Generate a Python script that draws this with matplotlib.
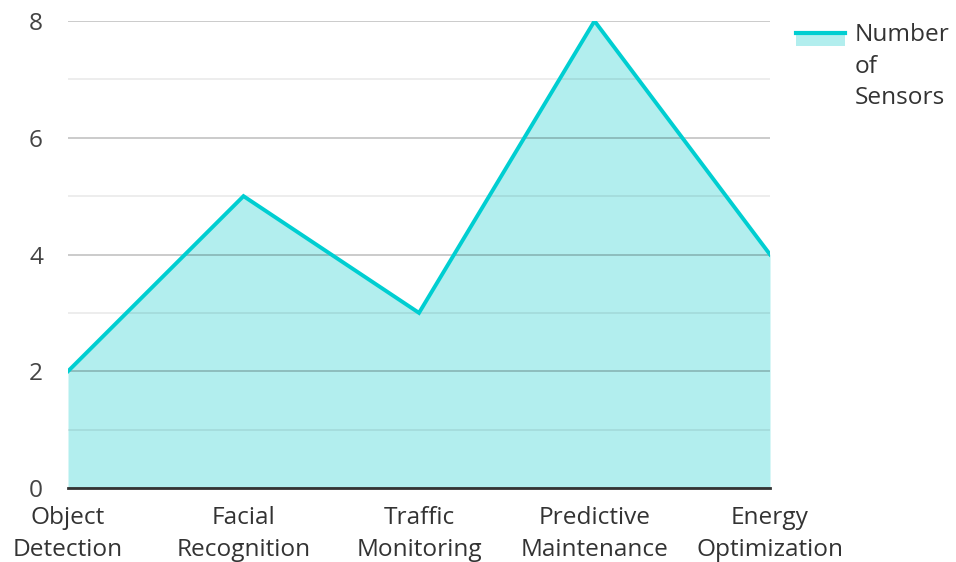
import matplotlib
matplotlib.use("Agg")
import matplotlib.pyplot as plt
from matplotlib.patches import Rectangle
from matplotlib.lines import Line2D

categories = ["Object\nDetection", "Facial\nRecognition", "Traffic\nMonitoring",
              "Predictive\nMaintenance", "Energy\nOptimization"]
sensors = [2, 5, 3, 8, 4]
series_label = "Number\nof\nSensors"
yticks = [0, 2, 4, 6, 8]

LINE = "#00CED1"
FILL = "#B2EEEE"
FS = 17.6
LS = 1.42

plt.rcParams['font.family'] = ['Open Sans', 'DejaVu Sans']

fig = plt.figure(figsize=(9.56, 5.62), dpi=100)
ax = fig.add_axes([68/956, 74/562, (770-68)/956, (488-21)/562])

x = list(range(len(categories)))
ax.fill_between(x, 0, sensors, color=FILL, lw=0, zorder=1)
ax.plot(x, sensors, color=LINE, lw=2.8, zorder=4, solid_joinstyle='miter')

ax.set_xlim(0, len(categories) - 1)
ax.set_ylim(0, 8)
ax.set_yticks(yticks)
ax.set_yticks([1, 3, 5, 7], minor=True)
ax.set_xticks(x)
ax.set_xticklabels(categories, fontsize=FS, color="#333333", linespacing=LS)
ax.tick_params(axis='y', labelsize=FS, labelcolor="#444444", length=0, pad=18, which='both')
ax.tick_params(axis='x', length=0, pad=13)

ax.grid(axis='y', which='major', color='black', alpha=0.22, lw=1.3, zorder=2)
ax.grid(axis='y', which='minor', color='black', alpha=0.08, lw=1.3, zorder=2)
ax.set_axisbelow(False)
for s in ["top", "right", "left"]:
    ax.spines[s].set_visible(False)
ax.spines["bottom"].set_color("#333333")
ax.spines["bottom"].set_linewidth(2)
ax.spines["bottom"].set_zorder(5)

# legend
tr = fig.transFigure
fig.add_artist(Rectangle((796/956, 1-46/562), 49/956, 14/562, transform=tr, fc=FILL, ec='none'))
fig.add_artist(Line2D([796/956, 845/956], [1-33/562, 1-33/562], transform=tr, color=LINE, lw=3))
fig.text(855/956, 1-23/562, series_label, transform=tr, fontsize=FS, color="#333333",
         va='top', ha='left', linespacing=LS)

fig.savefig("out.png", dpi=100)
